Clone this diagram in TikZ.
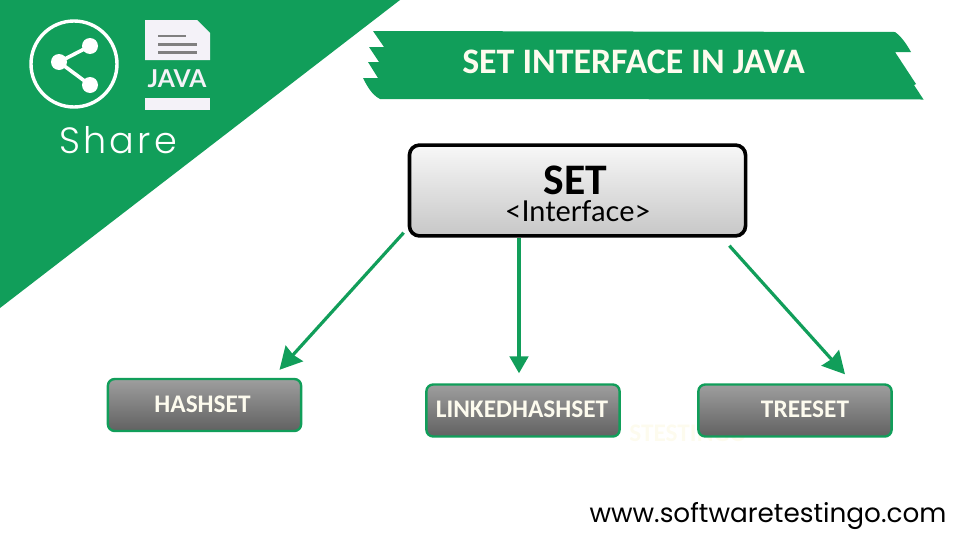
\documentclass[tikz,border=0pt]{standalone}
\usepackage{fontspec}
\setmainfont{Lato}
\newfontfamily\headfont{Carlito}
\newfontfamily\urlfont{Poppins}
\newfontfamily\sharefont[LetterSpace=9]{Poppins Light}
\usetikzlibrary{calc,arrows.meta}
\definecolor{brandgreen}{RGB}{17,158,90}
\definecolor{paper}{RGB}{244,242,248}
\definecolor{cream}{RGB}{253,251,238}
\tikzset{
    setbox/.style={draw=black, line width=0.09cm, rounded corners=0.25cm, top color=white!97!black, bottom color=black!22,
        minimum width=8.4cm, minimum height=2.27cm, inner sep=0pt},
    subbox/.style={draw=brandgreen, line width=0.06cm, rounded corners=0.17cm, top color=black!38, bottom color=black!62,
        minimum width=4.83cm, minimum height=1.3cm, inner sep=0pt, text=cream, font=\fontsize{18}{20}\headfont\bfseries},
    flow/.style={-{Stealth[inset=1.2pt,length=0.55cm,width=0.58cm]}, brandgreen, line width=0.08cm},
    flowstraight/.style={-{Triangle[length=0.42cm,width=0.46cm]}, brandgreen, line width=0.08cm},
}

\begin{document}
\begin{tikzpicture}[x=0.025cm,y=-0.025cm]
    \useasboundingbox (0,0) rectangle (960,540);
    \fill[brandgreen] (0,0) -- (400,0) -- (0,308) -- cycle;
    \fill[brandgreen] (373,31) -- (895,32) .. controls (902,37) and (907,45) .. (911,52) -- (895,52) -- (916,84) -- (914,85) -- (923.5,99.5)
        -- (380,99) .. controls (372,95) and (367,86) .. (363,78) -- (378,78) -- (368,62) -- (379,62) -- (369,47) -- (384,47) -- cycle;
    \node[text=cream, font=\fontsize{25.5}{28}\headfont\bfseries] (title) at (633.5,62) {SET INTERFACE IN JAVA};

    \draw[white, line width=0.085cm] (74,64) circle (43);
    \coordinate (hub) at (59,62);
    \coordinate (upper) at (90,46);
    \coordinate (lower) at (90,85);
    \draw[white, line width=0.09cm] (upper) -- (hub) -- (lower);
    \foreach \dot in {hub,upper,lower}
        \fill[white] (\dot) circle (8);
    \fill[paper] (145,20) -- (197,20) -- (210,33) -- (210,60) -- (145,60) -- cycle;
    \draw[black!50, line width=0.07cm] (158,36) -- (186,36) (158,44.5) -- (197,44.5) (158,52.5) -- (197,52.5);
    \node[text=paper, font=\fontsize{17.5}{20}\selectfont\bfseries] (javalabel) at (177,79) {JAVA};
    \fill[paper] (145,98) rectangle (210,110);
    \node[text=white, font=\fontsize{26}{30}\sharefont] (sharelabel) at (118,140) {Share};

    \node[text=cream, font=\fontsize{18}{20}\headfont\bfseries] (mark) at (688,433) {STESTINGO};

    \node[setbox] (setnode) at (577.5,190.5) {};
    \node[inner sep=0pt, font=\fontsize{31}{28}\headfont\bfseries] (setname) at (575.5,180) {SET};
    \node[inner sep=0pt, font=\fontsize{20.5}{20}\selectfont] (setkind) at (578,211) {<Interface>};
    \node[subbox] (hashnode) at (204.5,405) {\raisebox{1pt}{\hspace*{-0.1cm}HASHSET}};
    \node[subbox] (linkednode) at (523,410.5) {\raisebox{2.5pt}{\hspace*{-0.05cm}LINKEDHASHSET}};
    \node[subbox] (treenode) at (795,410.5) {\raisebox{2.5pt}{\hspace*{0.5cm}TREESET}};

    \draw[flow] ($(setnode.south west)+(-4,-5)$) -- ($(hashnode.north)+(75,-8)$);
    \draw[flowstraight] (setnode.south -| 519,0) -- ($(linkednode.north)+(-4,-10)$);
    \draw[flow] ($(setnode.south east)+(-18,8)$) -- ($(treenode.north)+(50,-9)$);

    \node[font=\fontsize{18.7}{22}\urlfont] (siteurl) at (768,515.5) {www.softwaretestingo.com};
\end{tikzpicture}
\end{document}
